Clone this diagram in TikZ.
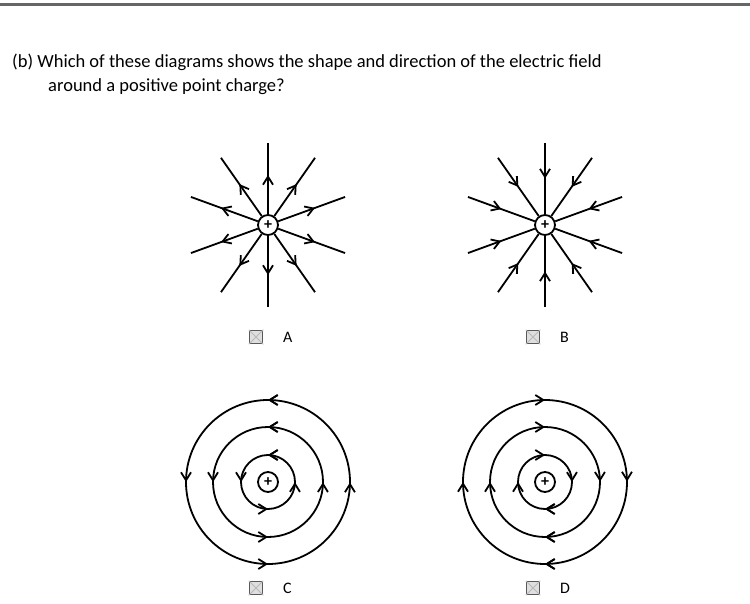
\documentclass[tikz,border=0pt]{standalone}
\usepackage{fontspec}
\setmainfont{Carlito}
\usetikzlibrary{arrows.meta,decorations.markings,calc}
\begin{document}
\begin{tikzpicture}[x=1pt,y=-1pt,line width=1.8pt,
  chg/.style={circle,draw,minimum size=20pt,inner sep=0pt,font=\fontsize{16}{16}\selectfont\bfseries},
  lbl/.style={font=\fontsize{18.5}{20}\selectfont,anchor=west},
  tick/.style={draw=gray!70!black,line width=1.5pt,fill=gray!25,minimum size=13pt,inner sep=0pt},
  ah/.style={},
  mid/.style={postaction={decorate},decoration={markings,mark=at position #1 with {\arrow{Straight Barb[length=8pt,width=10pt]}}}},
  ring/.style={mid=0.25,postaction={decorate,decoration={markings,mark=at position 0.5 with {\arrow{Straight Barb[length=8pt,width=10pt]}},mark=at position 0.75 with {\arrow{Straight Barb[length=8pt,width=10pt]}},mark=at position 0.999 with {\arrow{Straight Barb[length=8pt,width=10pt]}}}}}]
\useasboundingbox (0,0) rectangle (750,604);
\draw[gray!80!black,line width=3pt] (0,5) -- (750,5);
\node[lbl] (q1) at (8,62) {(b) Which of these diagrams shows the shape and direction of the electric field};
\node[lbl] (q2) at (44,87) {around a positive point charge?};
% A
\node[chg] (ca) at (268,225) {+};
\foreach \a in {90,270,55,125,20,160,-20,-160,-55,-125}{
  \coordinate (ea) at ($(ca)+(\a:82pt)$);
  \draw[mid=0.55] (ca.\a) -- (ea);
}
% B
\node[chg] (cb) at (545,225) {+};
\foreach \a in {90,270,55,125,20,160,-20,-160,-55,-125}{
  \coordinate (eb) at ($(cb)+(\a:82pt)$);
  \draw[mid=0.5] (eb) -- (cb.\a);
}
% C
\node[chg] (cc) at (268,482) {+};
\foreach \r in {27,55,82}{
  \draw[ring] ($(cc)+(\r,0)$) arc[start angle=0,end angle=-360,radius=\r];
}
% D
\node[chg] (cd) at (545,482) {+};
\foreach \r in {27,55,82}{
  \draw[ring] ($(cd)+(\r,0)$) arc[start angle=0,end angle=360,radius=\r];
}
\foreach \x/\y/\t in {256/337/A,533/337/B,256/588/C,533/588/D}{
  \node[tick] (t\t) at (\x,\y) {};
  \draw[gray!55,line width=0.8pt] (t\t.south west) -- (t\t.north east) (t\t.north west) -- (t\t.south east);
  \node[lbl,font=\fontsize{16}{18}\selectfont] (l\t) at (\x+23,\y) {\t};
}
\end{tikzpicture}
\end{document}
